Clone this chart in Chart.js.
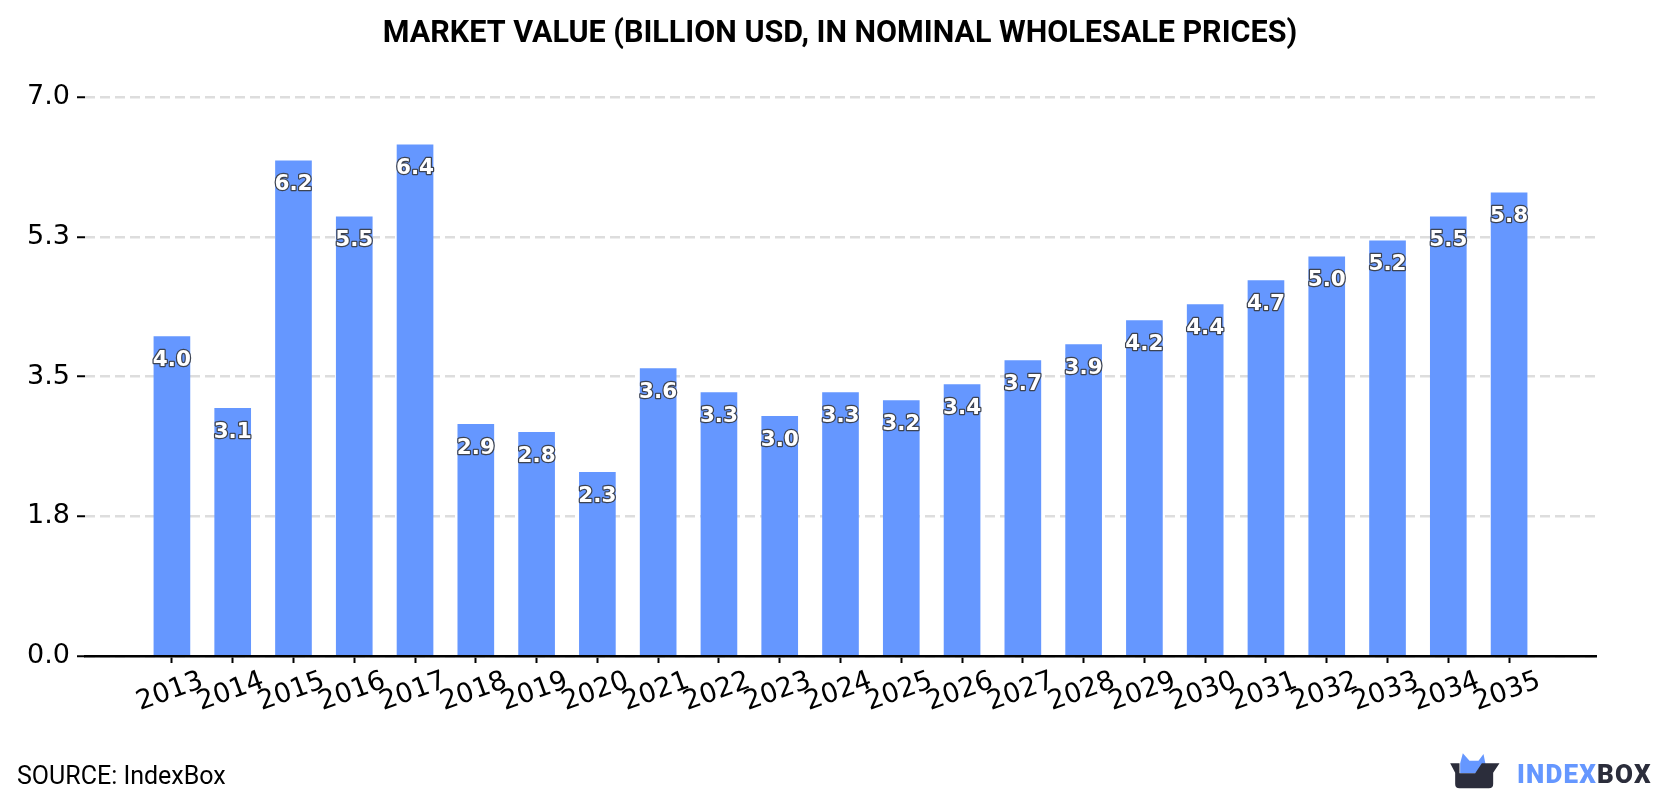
<!DOCTYPE html>
<html>
<head>
<meta charset="utf-8">
<title>Market Value</title>
<script src="https://cdn.jsdelivr.net/npm/chart.js@4/dist/chart.umd.js"></script>
<style>
  html, body { margin: 0; padding: 0; background: #fff; }
  #wrap { position: relative; width: 1680px; height: 800px; overflow: hidden; }
  #source { position: absolute; left: 17px; top: 761px; font: 400 25px Roboto, sans-serif; color: #000; }
  #logo-icon { position: absolute; left: 1420px; top: 740px; }
  #logo-text { position: absolute; left: 1517px; top: 759px; font: 900 26px Roboto, sans-serif; letter-spacing: 1.2px; color: #2b2d3b; }
  #logo-text span { color: #6597ff; }
</style>
</head>
<body>
<div id="wrap">
  <canvas id="chart" width="1680" height="800"></canvas>
  <div id="source">SOURCE: IndexBox</div>
  <svg id="logo-icon" width="87" height="60" viewBox="0 0 260 180">
    <path d="M128 40 L148 62 L175 62 L190 42 L196 72 L165 100 L120 100 L120 70 Z" fill="#6597ff"/>
    <path d="M90 70 H118 V100 H165 L185 70 H238 L219 98 V132 Q219 145 206 145 H118 Q105 145 105 132 V98 Z" fill="#2b2d3b"/>
  </svg>
  <div id="logo-text"><span>INDEX</span>BOX</div>
</div>
<script>
const categories = [2013, 2014, 2015, 2016, 2017, 2018, 2019, 2020, 2021, 2022, 2023, 2024,
  2025, 2026, 2027, 2028, 2029, 2030, 2031, 2032, 2033, 2034, 2035];
const marketValue = [4.0, 3.1, 6.2, 5.5, 6.4, 2.9, 2.8, 2.3, 3.6, 3.3, 3.0, 3.3,
  3.2, 3.4, 3.7, 3.9, 4.2, 4.4, 4.7, 5.0, 5.2, 5.5, 5.8];
const yTickValues = [0, 1.75, 3.5, 5.25, 7];
const yTickLabels = ['0.0', '1.8', '3.5', '5.3', '7.0'];

const axisFont = '"DejaVu Sans", sans-serif';

// value labels sit inside the top of each bar, white with a thin dark outline
const barLabels = {
  id: 'barLabels',
  afterDatasetsDraw(chart) {
    const { ctx } = chart;
    ctx.save();
    ctx.font = 'bold 21.5px ' + axisFont;
    ctx.textAlign = 'center';
    ctx.textBaseline = 'middle';
    ctx.lineJoin = 'round';
    chart.getDatasetMeta(0).data.forEach((bar, i) => {
      const text = marketValue[i].toFixed(1);
      ctx.lineWidth = 2.5;
      ctx.strokeStyle = '#3d4350';
      ctx.strokeText(text, bar.x, bar.y + 24);
      ctx.fillStyle = '#fff';
      ctx.fillText(text, bar.x, bar.y + 24);
    });
    ctx.restore();
  }
};

// Chart.js right-aligns rotated ticks, these ones are centred under the tick
const yearLabels = {
  id: 'yearLabels',
  afterDraw(chart) {
    const { ctx, scales } = chart;
    ctx.save();
    ctx.font = '27px ' + axisFont;
    ctx.fillStyle = '#000';
    ctx.textAlign = 'center';
    ctx.textBaseline = 'middle';
    categories.forEach(year => {
      ctx.save();
      ctx.translate(scales.x.getPixelForValue(year) - 2, 692);
      ctx.rotate(-20 * Math.PI / 180);
      ctx.fillText(String(year), 0, 0);
      ctx.restore();
    });
    ctx.restore();
  }
};

const chartTitle = {
  id: 'chartTitle',
  afterDraw(chart) {
    const { ctx } = chart;
    ctx.save();
    ctx.font = '700 30.5px Roboto, sans-serif';
    ctx.fillStyle = '#000';
    ctx.textAlign = 'center';
    ctx.textBaseline = 'middle';
    ctx.fillText('MARKET VALUE (BILLION USD, IN NOMINAL WHOLESALE PRICES)', 840, 34);
    ctx.restore();
  }
};

new Chart(document.getElementById('chart'), {
  type: 'bar',
  data: {
    datasets: [{
      data: categories.map((year, i) => ({ x: year, y: marketValue[i] })),
      backgroundColor: '#6597ff',
      barThickness: 36
    }]
  },
  options: {
    responsive: false,
    animation: false,
    layout: { padding: { top: 97, right: 84, bottom: 0, left: 0 } },
    plugins: { legend: { display: false }, tooltip: { enabled: false } },
    scales: {
      x: {
        type: 'linear',
        offset: false,
        min: 2011.57,
        max: 2036.43,
        afterBuildTicks(scale) { scale.ticks = categories.map(value => ({ value })); },
        afterFit(scale) { scale.height = 144; },
        ticks: { display: false },
        grid: { offset: false, drawOnChartArea: false, color: '#000', tickWidth: 2, tickLength: 7 },
        border: { color: '#000', width: 2.5 }
      },
      y: {
        min: 0,
        max: 7,
        afterBuildTicks(scale) { scale.ticks = yTickValues.map(value => ({ value })); },
        afterFit(scale) { scale.width = 85; },
        ticks: {
          color: '#000',
          padding: 7,
          font: { family: axisFont, size: 27 },
          callback: (value, index) => yTickLabels[index]
        },
        grid: { color: '#dddddd', lineWidth: 2.5, tickColor: '#000', tickWidth: 2, tickLength: 8 },
        border: { display: false, dash: [10, 5] }
      }
    }
  },
  plugins: [barLabels, yearLabels, chartTitle]
});
</script>
</body>
</html>
